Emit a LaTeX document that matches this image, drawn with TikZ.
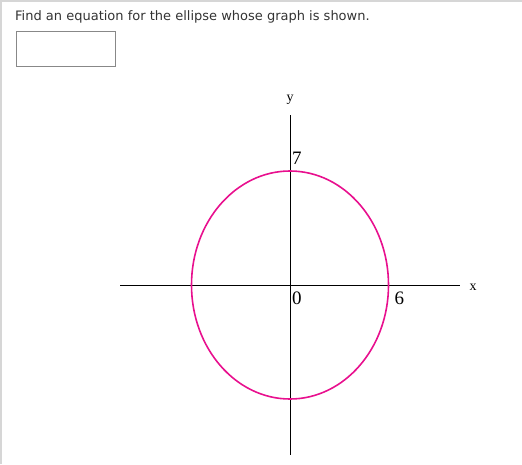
\documentclass[tikz,border=0pt]{standalone}
\usepackage{fontspec}
\setmainfont{Liberation Serif}
\newfontfamily\promptfont{DejaVu Sans}
\usetikzlibrary{positioning}
\definecolor{curvepink}{RGB}{232,16,142}
\definecolor{framegray}{RGB}{214,214,214}
\definecolor{promptgray}{RGB}{51,51,51}
\definecolor{boxgray}{RGB}{136,136,136}

\tikzset{
  axis/.style={line width=1pt, black},
  tick/.style={font=\fontsize{19}{19}\selectfont, inner sep=0pt, anchor=west},
  axlabel/.style={font=\fontsize{14}{14}\selectfont, inner sep=0pt},
}

\begin{document}
\begin{tikzpicture}[x=1pt, y=-1pt]
  \useasboundingbox (0,0) rectangle (522,464);
  % page frame
  \draw[framegray, line width=1.5pt] (0.75,464) -- (0.75,0.75) -- (522,0.75);

  % question and answer box
  \node[anchor=west, inner sep=0pt, text=promptgray,
        font=\promptfont\fontsize{13}{14}\selectfont] (prompt) at (15,17)
        {Find an equation for the ellipse whose graph is shown.};
  \node[draw=boxgray, line width=1pt, minimum width=99pt, minimum height=35pt,
        inner sep=0pt, anchor=north west] (answer) at (15.5,30.5) {};

  % axes
  \coordinate (O) at (290,285);
  \coordinate (xl) at (120,285);
  \coordinate (xr) at (460,285);
  \coordinate (yt) at (290,115);
  \coordinate (yb) at (290,455);
  \draw[axis] (xl) -- (xr);
  \draw[axis] (yt) -- (yb);
  \node[axlabel] (xname) at (473,287) {x};
  \node[axlabel] (yname) at (290,100) {y};

  % ellipse
  \draw[curvepink, line width=1.6pt] (O) ellipse [x radius=98.5, y radius=114];

  % values
  \node[tick] (seven) at (292,158) {7};
  \node[tick] (zero) at (292,298) {0};
  \node[tick] (six) at (394.5,298) {6};
\end{tikzpicture}
\end{document}
